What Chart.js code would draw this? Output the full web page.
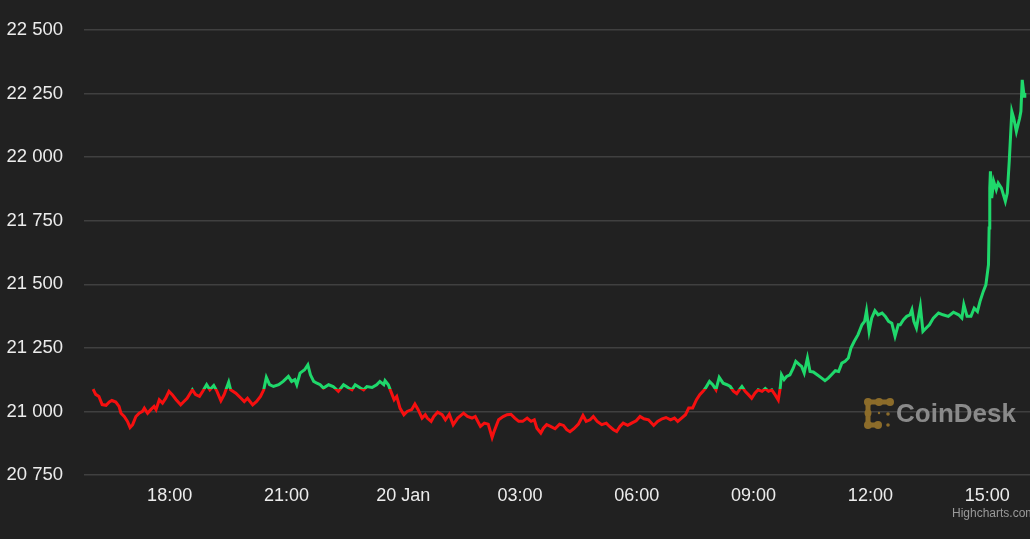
<!DOCTYPE html>
<html>
<head>
<meta charset="utf-8">
<script src="https://cdn.jsdelivr.net/npm/chart.js@4/dist/chart.umd.min.js"></script>
<style>
  html, body { margin: 0; padding: 0; background: #212121; }
  #wrap { position: relative; width: 1030px; height: 539px; overflow: hidden; background: #212121; }
  #c { position: absolute; left: 0; top: 0; }
  #credit { position: absolute; left: 952px; top: 506px; font: 12px "Liberation Sans", Arial, sans-serif; color: #9a9a9a; white-space: nowrap; }
</style>
</head>
<body>
<div id="wrap">
  <canvas id="c" width="1030" height="539"></canvas>
  <div id="credit">Highcharts.com</div>
</div>
<script>
// Time in minutes since 19 Jan 16:00; BTC price (USD)
const minutes = [
  2,6,11,16,22,27,31,37,42,45,50,55,59,63,68,73,78,81,86,91,96,99,104,109,114,119,124,130,137,142,147,155,160,166,171,177,182,188,193,199,204,211,214,222,230,235,240,248,
  254,260,265,269,274,280,288,295,303,308,313,316,321,328,333,337,342,347,352,357,365,372,380,388,396,401,406,414,419,424,432,439,444,450,452,457,462,466,470,475,481,486,493,498,503,
  509,514,517,523,527,533,540,545,551,557,564,573,579,586,591,599,605,611,617,620,627,634,640,646,652,658,664,671,677,682,686,692,696,701,707,714,721,727,732,737,743,750,
  757,762,768,773,779,786,793,798,804,809,814,819,826,832,839,845,851,858,866,872,879,885,892,898,903,909,915,920,926,932,937,942,946,952,957,962,967,973,979,984,989,994,
  998,1002,1007,1012,1017,1022,1027,1033,1038,1043,1048,1053,1058,1061,1063,1067,1071,1076,1081,1085,1091,1094,1098,1103,1107,1112,1118,1125,1130,1135,1140,1146,1151,1156,1161,1166,1170,1175,1181,1187,1191,1194,1198,1202,1207,1212,1218,1223,1228,1233,1238,1243,
  1246,1251,1256,1261,1264,1267,1271,1277,1281,1286,1291,1297,1305,1312,1320,1328,1336,1341,1344,1349,1355,1360,1365,1369,1374,1378,1382,1383,1384,1385,1387,1390,1394,1397,1402,1408,1411,1414,1418,1421,1425,1430,1432,1434,1437,1438
];
const prices = [
  21088,21067,21059,21027,21024,21037,21043,21037,21020,20993,20980,20961,20937,20948,20980,20993,21000,21013,20993,21007,21020,21007,21046,21033,21052,21079,21066,21046,21026,21039,21052,21085,21066,21059,21079,21105,21085,21102,21079,21042,21066,21115,21085,21072,21052,21039,21052,21026,
  21039,21059,21085,21134,21105,21098,21105,21118,21138,21118,21125,21105,21151,21164,21183,21144,21118,21111,21105,21092,21105,21098,21079,21105,21092,21085,21105,21092,21085,21098,21094,21105,21118,21105,21121,21105,21072,21046,21059,21013,20987,21000,21007,21029,21007,
  20974,20987,20974,20961,20980,20997,20987,20967,20989,20948,20974,20993,20980,20974,20980,20941,20954,20950,20898,20921,20967,20980,20987,20989,20974,20961,20961,20974,20961,20967,20934,20915,20934,20948,20941,20932,20950,20945,20928,20920,20932,20950,
  20984,20961,20967,20980,20961,20948,20954,20941,20928,20921,20941,20954,20945,20954,20963,20980,20971,20967,20945,20961,20971,20976,20967,20974,20961,20974,20987,21013,21013,21046,21066,21079,21092,21118,21105,21085,21134,21111,21105,21098,21080,21070,
  21085,21098,21079,21066,21052,21072,21085,21079,21090,21079,21085,21066,21045,21092,21144,21125,21138,21144,21170,21197,21183,21177,21151,21210,21157,21155,21144,21131,21121,21131,21144,21160,21157,21190,21197,21210,21249,21275,21302,21341,21354,21396,21315,21367,21396,21380,21387,21374,21354,21347,21295,21341,
  21341,21361,21374,21380,21400,21354,21328,21413,21315,21328,21341,21367,21387,21380,21374,21390,21380,21367,21420,21374,21374,21406,21393,21433,21472,21498,21577,21721,21878,21944,21839,21905,21872,21898,21878,21826,21859,21983,22180,22153,22101,22153,22180,22304,22239,22252
];
const openPrice = 21088;
const xTickValues = [120, 300, 480, 660, 840, 1020, 1200, 1380];
const xTickLabels = ["18:00", "21:00", "20 Jan", "03:00", "06:00", "09:00", "12:00", "15:00"];
const yTicks = [20750, 21000, 21250, 21500, 21750, 22000, 22250, 22500];

const GREEN = '#1fd86b';
const RED = '#f60f0f';

const points = minutes.map((m, i) => ({ x: m, y: prices[i] }));

const bgPlugin = {
  id: 'bg',
  beforeDraw(chart) {
    const c = chart.ctx;
    c.save();
    c.fillStyle = '#212121';
    c.fillRect(0, 0, chart.width, chart.height);
    c.restore();
  }
};

const watermark = {
  id: 'watermark',
  beforeDatasetsDraw(chart) {
    const c = chart.ctx;
    c.save();
    const gold = '#8c6c2a';
    c.fillStyle = gold;
    c.strokeStyle = gold;
    c.lineWidth = 5;
    c.lineCap = 'round';
    c.beginPath();
    c.moveTo(868, 402); c.lineTo(890, 402);
    c.moveTo(868, 402); c.lineTo(868, 425);
    c.lineTo(878, 425);
    c.stroke();
    const dots = [[868,402,4],[879,402,4],[890,402,4],[868,425,4],[878,425,4],[868,413,3.5],[888,414,1.8],[888,425,1.8],[879,413,1.2]];
    dots.forEach(d => { c.beginPath(); c.arc(d[0], d[1], d[2], 0, Math.PI * 2); c.fill(); });
    c.fillStyle = '#8a8a8a';
    c.font = 'bold 26px "Liberation Sans", Arial, sans-serif';
    c.textBaseline = 'middle';
    c.fillText('CoinDesk', 896, 415);
    c.restore();
  }
};

function lineColor(ctx) {
  const chart = ctx.chart;
  const area = chart.chartArea;
  if (!area) return RED;
  const yT = chart.scales.y.getPixelForValue(openPrice);
  let s = (yT - area.top) / (area.bottom - area.top);
  s = Math.min(1, Math.max(0, s));
  const g = chart.ctx.createLinearGradient(0, area.top, 0, area.bottom);
  g.addColorStop(0, GREEN);
  g.addColorStop(s, GREEN);
  g.addColorStop(s, RED);
  g.addColorStop(1, RED);
  return g;
}

new Chart(document.getElementById('c'), {
  type: 'line',
  data: {
    datasets: [{
      data: points,
      borderColor: lineColor,
      borderWidth: 3,
      pointRadius: 0,
      tension: 0,
      fill: false
    }]
  },
  options: {
    responsive: false,
    animation: false,
    layout: { padding: { left: 0, right: 0, top: 30, bottom: 0 } },
    plugins: { legend: { display: false }, tooltip: { enabled: false } },
    scales: {
      x: {
        type: 'linear',
        min: -12,
        max: 1446,
        afterBuildTicks(scale) { scale.ticks = xTickValues.map(v => ({ value: v })); },
        afterFit(scale) { scale.height = 64; scale.paddingLeft = 0; scale.paddingRight = 0; },
        grid: { display: false },
        border: { display: false },
        ticks: {
          color: '#ececec',
          padding: 2,
          maxRotation: 0,
          autoSkip: false,
          font: { family: '"Liberation Sans", Arial, sans-serif', size: 18 },
          callback(v) { const i = xTickValues.indexOf(v); return i >= 0 ? xTickLabels[i] : ''; }
        }
      },
      y: {
        min: 20750,
        max: 22500,
        afterBuildTicks(scale) { scale.ticks = yTicks.map(v => ({ value: v })); },
        afterFit(scale) { scale.width = 84; scale.paddingTop = 0; scale.paddingBottom = 0; },
        border: { display: false },
        grid: { color: '#404040', lineWidth: 1.5, drawTicks: false },
        ticks: {
          color: '#ececec',
          padding: 21,
          font: { family: '"Liberation Sans", Arial, sans-serif', size: 18.5 },
          callback(v) { return String(v).replace(/\B(?=(\d{3})+(?!\d))/g, ' '); }
        }
      }
    }
  },
  plugins: [bgPlugin, watermark]
});
</script>
</body>
</html>
